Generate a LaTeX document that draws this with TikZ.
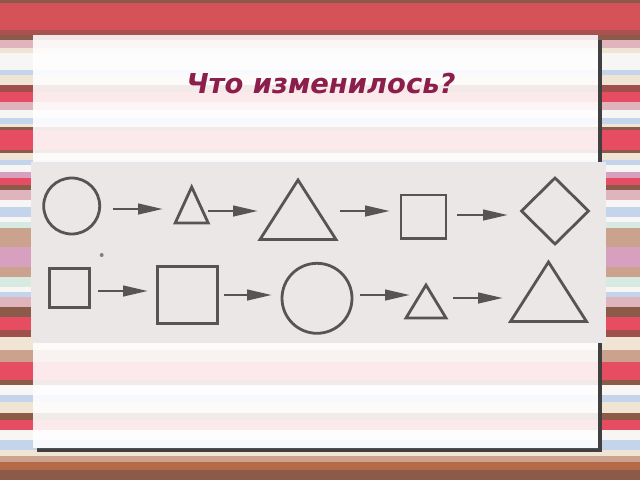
\documentclass[tikz,border=0pt]{standalone}
\usepackage{fontspec}
\newfontfamily\titlefont{DejaVu Sans}
\usetikzlibrary{arrows.meta, shapes.geometric}
\definecolor{stBrown}{RGB}{139,90,72}
\definecolor{stRed}{RGB}{212,82,88}
\definecolor{stDark}{RGB}{170,82,80}
\definecolor{stBrRed}{RGB}{160,80,74}
\definecolor{stRose}{RGB}{230,76,98}
\definecolor{stPink}{RGB}{224,180,188}
\definecolor{stCream}{RGB}{240,228,212}
\definecolor{stWhite}{RGB}{248,246,244}
\definecolor{stBlue}{RGB}{196,212,234}
\definecolor{stTan}{RGB}{202,162,142}
\definecolor{stMauve}{RGB}{214,160,190}
\definecolor{stTeal}{RGB}{214,234,226}
\definecolor{stOrange}{RGB}{180,106,72}
\definecolor{scan}{RGB}{236,231,231}
\definecolor{figgray}{RGB}{88,84,84}
\definecolor{titlecol}{RGB}{140,30,75}
\newcommand\stripelist{0/3/stBrown, 3/30/stRed, 30/35/stDark, 35/40/stBrown,
	40/48/stPink, 48/53/stCream, 53/70/stWhite, 70/75/stBlue, 75/85/stCream,
	85/92/stBrRed, 92/102/stRose, 102/110/stPink, 110/118/stWhite, 118/124/stBlue,
	124/127/stCream, 127/130/stBrown, 130/150/stRose, 150/153/stBrown, 153/160/stCream,
	160/165/stBlue, 165/172/stWhite, 172/178/stMauve, 178/185/stRose, 185/190/stBrown,
	190/200/stPink, 200/207/stWhite, 207/217/stBlue, 217/222/stWhite, 222/228/stTeal,
	228/247/stTan, 247/267/stMauve, 267/277/stTan, 277/287/stTeal, 287/292/stWhite,
	292/297/stBlue, 297/307/stPink, 307/317/stBrown, 317/330/stRose, 330/337/stBrRed,
	337/350/stCream, 350/362/stTan, 362/380/stRose, 380/385/stBrown, 385/395/stWhite,
	395/402/stBlue, 402/413/stCream, 413/420/stBrown, 420/430/stRose, 430/440/stWhite,
	440/450/stBlue, 450/456/stCream, 456/462/stTan, 462/470/stOrange, 470/480/stBrown}
\tikzset{
shapeline/.style={draw=figgray, line width=2.8pt, inner sep=0pt, outer sep=0pt},
round/.style={shapeline, circle, minimum size=#1},
sq/.style 2 args={shapeline, rectangle, minimum width=#1, minimum height=#2},
tri/.style 2 args={%
    shapeline,
    isosceles triangle,
    shape border rotate=90,
    isosceles triangle stretches,
    minimum width=#1,
    minimum height=#2,
    anchor=apex
},
rhomb/.style 2 args={shapeline, diamond, minimum width=#1, minimum height=#2},
arr/.style={draw=figgray, line width=2.8pt, -{Triangle[length=25pt,width=10.5pt]}},
heading/.style={text=titlecol, anchor=base, font=\titlefont\bfseries\itshape\fontsize{27.4}{30}\selectfont},
}

\begin{document}
\begin{tikzpicture}[x=1pt, y=-1pt]
	\useasboundingbox (0,0) rectangle (640,480);
	% striped background
	\foreach \ya/\yb/\col in \stripelist
		\fill[\col] (0,\ya) rectangle (640,\yb);
	% panel with shadow, stripes showing faintly through
	\fill[black!75] (37,40) rectangle (602,452);
	\begin{scope}
		\clip (33,35) rectangle (598,448);
		\fill[white] (33,35) rectangle (598,448);
		\foreach \ya/\yb/\col in \stripelist
			\fill[\col, opacity=0.12] (0,\ya) rectangle (640,\yb);
	\end{scope}
	\node[heading] (title) at (321,93.5) {Что изменилось?};
	% scanned sheet
	\fill[scan] (31,162) rectangle (606,343);
	\fill[figgray!75] (101.7,255) circle (2);

	\node[round=56] (c1) at (71.7,206) {};
	\node[tri={33}{36}] (t1) at (191.7,187) {};
	\node[tri={76}{59.5}] (t2) at (298,180) {};
	\node[sq={45}{43.5}] (s1) at (423.5,216.7) {};
	\node[rhomb={67}{66}] (d1) at (555,211) {};

	\node[sq={40}{38.7}] (s2) at (69.2,288.2) {};
	\node[sq={60}{57}] (s3) at (187.7,295) {};
	\node[round=70] (c2) at (317,298.3) {};
	\node[tri={40}{33}] (t3) at (426,285) {};
	\node[tri={76}{59.5}] (t4) at (548.5,262) {};

	\draw[arr] ([shift={(41.3,3)}]c1.center) -- ([shift={(-28.7,22)}]t1.apex);
	\draw[arr] ([shift={(16.3,24)}]t1.apex) -- ([shift={(-40,31)}]t2.apex);
	\draw[arr] ([shift={(42,31)}]t2.apex) -- ([shift={(-33.5,-5.7)}]s1.center);
	\draw[arr] ([shift={(33.5,-1.7)}]s1.center) -- ([shift={(-47,4)}]d1.center);
	\draw[arr] ([shift={(28.8,2.8)}]s2.center) -- ([shift={(-39.7,-4)}]s3.center);
	\draw[arr] ([shift={(36.3,0)}]s3.center) -- ([shift={(-45,-3.3)}]c2.center);
	\draw[arr] ([shift={(43,-3.3)}]c2.center) -- ([shift={(-16,10)}]t3.apex);
	\draw[arr] ([shift={(27,13)}]t3.apex) -- ([shift={(-45.5,36)}]t4.apex);
\end{tikzpicture}
\end{document}
